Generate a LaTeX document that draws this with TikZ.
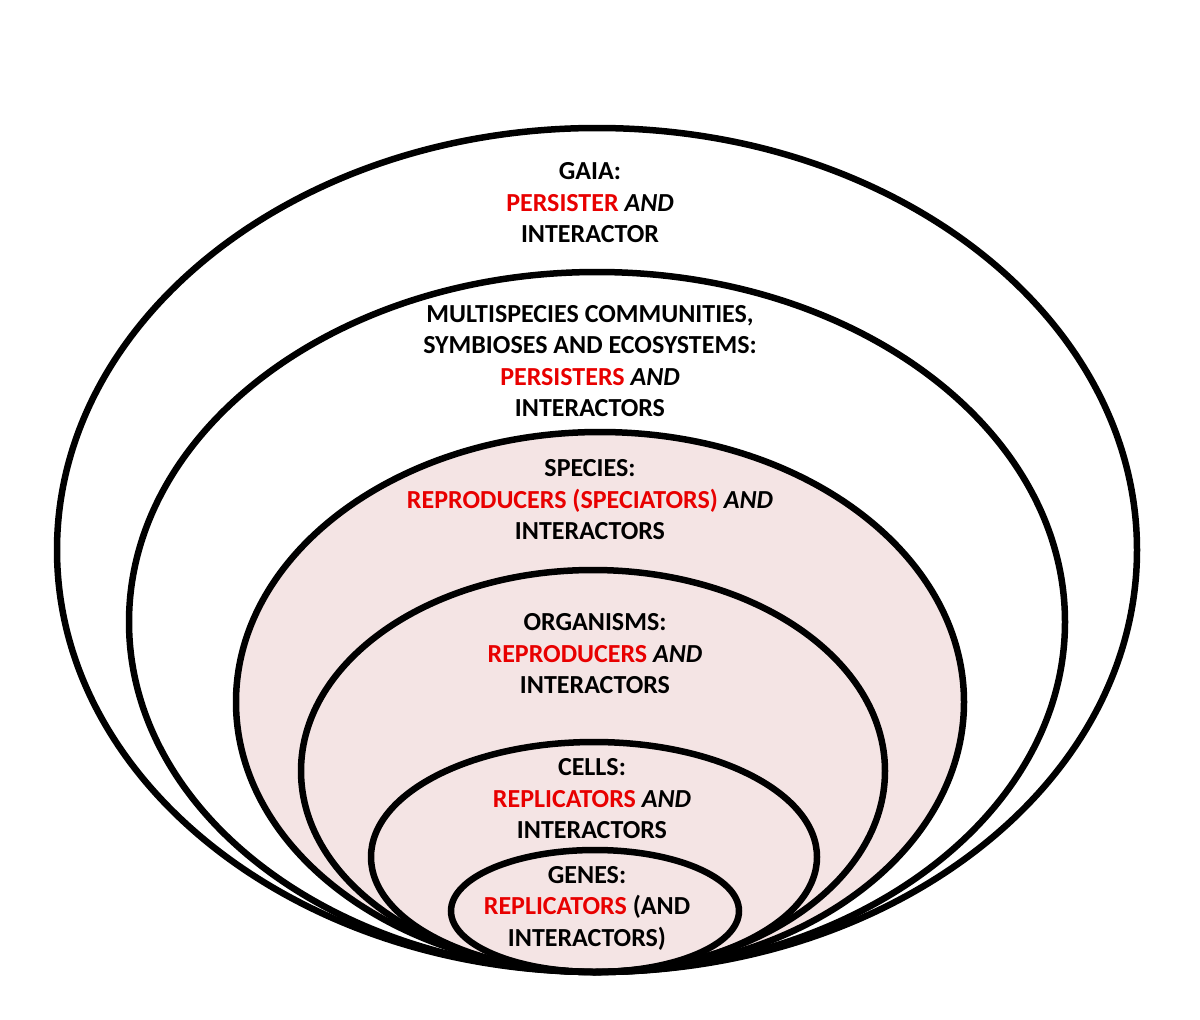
\documentclass[tikz,border=0pt]{standalone}
\usepackage{fontspec}
\setmainfont{Carlito}
\definecolor{rd}{RGB}{232,0,0}
\definecolor{pk}{RGB}{244,228,228}
\begin{document}
\begin{tikzpicture}[x=1pt,y=1pt,
  ring/.style={line width=6.5pt,draw=black},
  lbl/.style={align=center,font=\bfseries\fontsize{26}{31.5}\selectfont,inner sep=0pt}]
\useasboundingbox (0,0) rectangle (1200,-1020);
\draw[ring] (597,-550) ellipse [x radius=540,y radius=422];
\draw[ring] (597,-622) ellipse [x radius=468,y radius=350];
\draw[ring,fill=pk] (600,-702) ellipse [x radius=364,y radius=270];
\draw[ring] (593,-771) ellipse [x radius=292,y radius=201];
\draw[ring] (594,-857) ellipse [x radius=223,y radius=115];
\draw[ring] (595,-911) ellipse [x radius=144,y radius=61];
\node[lbl] (gaia) at (590,-203) {GAIA:\\\textcolor{rd}{PERSISTER} \textit{AND}\\INTERACTOR};
\node[lbl] (multi) at (590,-361) {MULTISPECIES COMMUNITIES,\\SYMBIOSES AND ECOSYSTEMS:\\\textcolor{rd}{PERSISTERS} \textit{AND}\\INTERACTORS};
\node[lbl] (species) at (590,-500) {SPECIES:\\\textcolor{rd}{REPRODUCERS (SPECIATORS)} \textit{AND}\\INTERACTORS};
\node[lbl] (org) at (595,-654) {ORGANISMS:\\\textcolor{rd}{REPRODUCERS} \textit{AND}\\INTERACTORS};
\node[lbl] (cells) at (592,-799) {CELLS:\\\textcolor{rd}{REPLICATORS} \textit{AND}\\INTERACTORS};
\node[lbl] (genes) at (587,-908) {GENES:\\\textcolor{rd}{REPLICATORS} (AND\\INTERACTORS)};
\end{tikzpicture}
\end{document}
